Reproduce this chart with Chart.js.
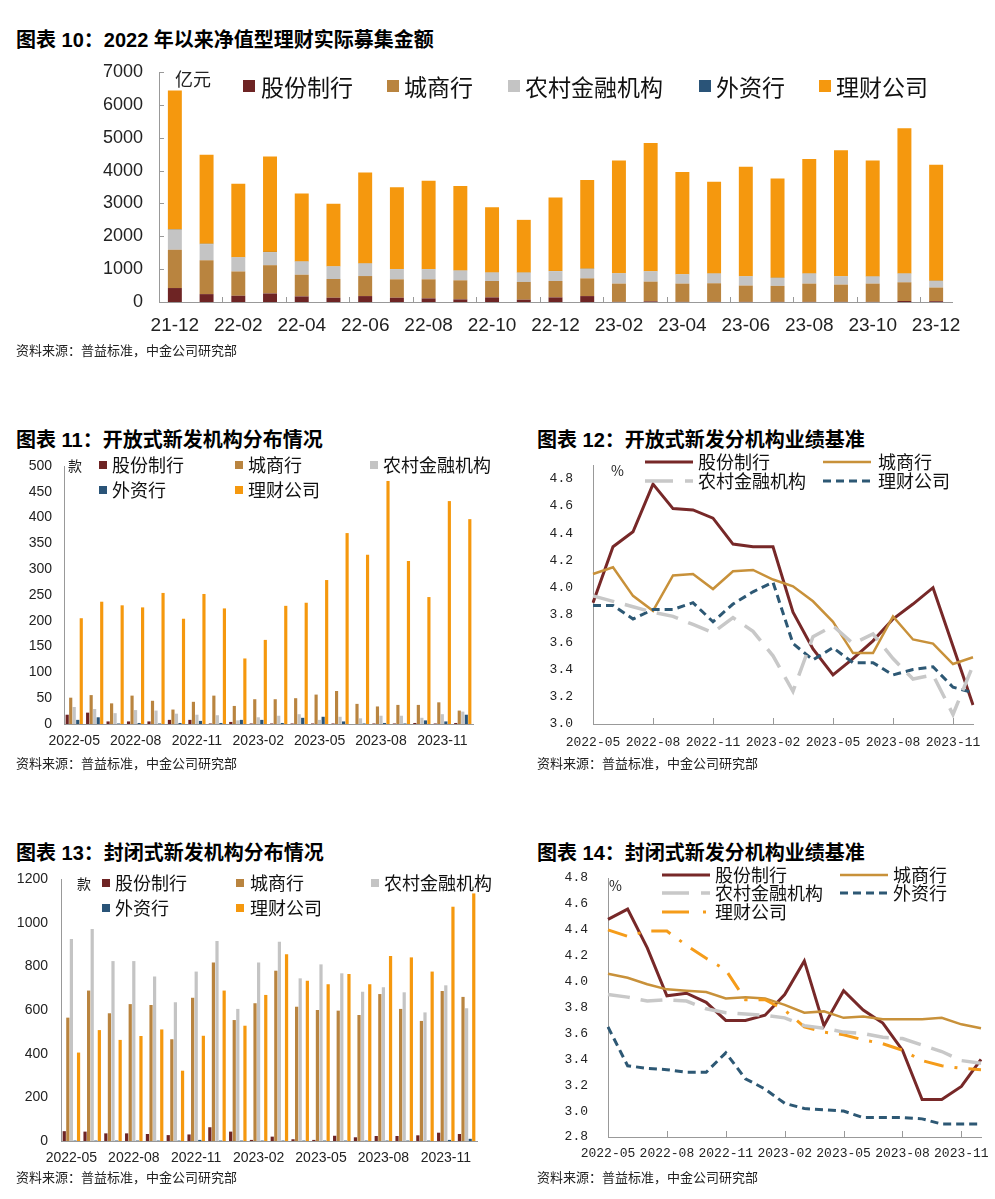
<!DOCTYPE html>
<html>
<head>
<meta charset="utf-8">
<script src="https://cdn.jsdelivr.net/npm/chart.js@4.4.1/dist/chart.umd.min.js"></script>
<style>
  body { margin: 0; background: #fff; }
  #page { position: relative; width: 995px; height: 1199px; background: #fff; overflow: hidden; }
  canvas { position: absolute; }
  .t { position: absolute; white-space: nowrap; font-family: "Liberation Sans", "Noto Sans CJK SC", sans-serif; font-weight: 700; font-size: 20px; line-height: 24px; color: #000; }
  .src { position: absolute; white-space: nowrap; font-family: "Noto Sans CJK SC", sans-serif; font-size: 13px; line-height: 16px; color: #222; }
  .lg { position: absolute; white-space: nowrap; font-family: "Noto Sans CJK SC", sans-serif; color: #111; }
  .sq { position: absolute; }
  .unit { position: absolute; white-space: nowrap; font-family: "Noto Sans CJK SC", "Liberation Sans", sans-serif; color: #222; }
</style>
</head>
<body>
<div id="page">
  <div class="t" style="left:16px; top:28px;">图表 10：2022 年以来净值型理财实际募集金额</div>
  <canvas id="c10" width="995" height="300" style="left:0; top:55px;"></canvas>
  <div class="unit" style="left:175px; top:66px; font-size:18px; line-height:24px;">亿元</div>
  <div class="src" style="left:16px; top:342px;">资料来源：普益标准，中金公司研究部</div>

  <div class="t" style="left:16px; top:428px;">图表 11：开放式新发机构分布情况</div>
  <canvas id="c11" width="490" height="300" style="left:0; top:455px;"></canvas>
  <div class="unit" style="left:68px; top:456px; font-size:14px; line-height:18px;">款</div>
  <div class="src" style="left:16px; top:755px;">资料来源：普益标准，中金公司研究部</div>

  <div class="t" style="left:537px; top:428px;">图表 12：开放式新发分机构业绩基准</div>
  <canvas id="c12" width="465" height="300" style="left:530px; top:455px;"></canvas>
  <div class="unit" style="left:611px; top:461px; font-size:14px; line-height:18px;">%</div>
  <div class="src" style="left:537px; top:755px;">资料来源：普益标准，中金公司研究部</div>

  <div class="t" style="left:16px; top:841px;">图表 13：封闭式新发机构分布情况</div>
  <canvas id="c13" width="490" height="310" style="left:0; top:860px;"></canvas>
  <div class="unit" style="left:77px; top:874px; font-size:14px; line-height:18px;">款</div>
  <div class="src" style="left:16px; top:1169px;">资料来源：普益标准，中金公司研究部</div>

  <div class="t" style="left:537px; top:841px;">图表 14：封闭式新发分机构业绩基准</div>
  <canvas id="c14" width="465" height="310" style="left:530px; top:860px;"></canvas>
  <div class="unit" style="left:609px; top:876px; font-size:14px; line-height:18px;">%</div>
  <div class="src" style="left:537px; top:1169px;">资料来源：普益标准，中金公司研究部</div>
</div>

<script>
// ---- data ----
const series = ['股份制行', '城商行', '农村金融机构', '外资行', '理财公司'];
const barColors = ['#6e2424', '#b9843f', '#c4c4c4', '#2a5478', '#f5980e'];

const months10 = ['21-12', '22-01', '22-02', '22-03', '22-04', '22-05', '22-06', '22-07', '22-08', '22-09', '22-10', '22-11', '22-12',
    '23-01', '23-02', '23-03', '23-04', '23-05', '23-06', '23-07', '23-08', '23-09', '23-10', '23-11', '23-12'];
const gufen10 = [425, 240, 190, 260, 170, 130, 180, 130, 110, 80, 140, 70, 140, 180, 5, 20, 5, 5, 5, 5, 5, 5, 5, 30, 25];
const chengshang10 = [1165, 1030, 740, 860, 660, 570, 610, 560, 580, 580, 500, 540, 500, 540, 555, 600, 555, 565, 495, 485, 555, 525, 555, 570, 415];
const nongcun10 = [610, 490, 430, 400, 400, 380, 380, 310, 310, 290, 250, 280, 300, 290, 310, 310, 280, 290, 280, 240, 300, 250, 210, 260, 200];
const waizi10 = [10, 10, 5, 5, 5, 5, 5, 5, 5, 5, 5, 5, 5, 5, 5, 5, 5, 5, 5, 5, 5, 5, 5, 5, 5];
const licai10 = [4230, 2710, 2235, 2905, 2065, 1905, 2765, 2485, 2685, 2575, 1985, 1605, 2235, 2695, 3435, 3905, 3115, 2795, 3335, 3025, 3485, 3835, 3535, 4425, 3535];

const months = ['2022-05', '2022-06', '2022-07', '2022-08', '2022-09', '2022-10', '2022-11', '2022-12', '2023-01', '2023-02',
    '2023-03', '2023-04', '2023-05', '2023-06', '2023-07', '2023-08', '2023-09', '2023-10', '2023-11', '2023-12'];

// 开放式新发数量（款）
const gufen11 = [18, 22, 5, 5, 5, 8, 8, 1, 4, 1, 1, 1, 1, 1, 0, 1, 1, 2, 1, 2];
const chengshang11 = [51, 56, 40, 55, 45, 28, 43, 55, 35, 48, 48, 50, 57, 64, 39, 34, 37, 37, 42, 26];
const nongcun11 = [33, 29, 21, 27, 26, 20, 18, 17, 7, 13, 16, 19, 8, 14, 11, 16, 16, 12, 19, 24];
const waizi11 = [8, 13, 1, 2, 1, 2, 6, 2, 8, 8, 2, 12, 14, 5, 1, 2, 1, 7, 5, 18];
const licai11 = [205, 237, 230, 226, 254, 204, 252, 224, 127, 163, 229, 235, 279, 370, 328, 471, 316, 246, 432, 397];

// 开放式业绩基准（%）
const gufen12 = [3.89, 4.30, 4.41, 4.76, 4.58, 4.57, 4.51, 4.32, 4.30, 4.30, 3.82, 3.55, 3.36, 3.48, 3.61, 3.77, 3.88, 4.00, 3.57, 3.14];
const chengshang12 = [4.10, 4.15, 3.94, 3.83, 4.09, 4.10, 3.99, 4.12, 4.13, 4.06, 4.01, 3.90, 3.75, 3.52, 3.52, 3.79, 3.62, 3.59, 3.44, 3.49];
const nongcun12 = [3.94, 3.90, 3.86, 3.82, 3.79, 3.73, 3.67, 3.78, 3.68, 3.50, 3.24, 3.64, 3.72, 3.59, 3.66, 3.48, 3.33, 3.36, 3.07, 3.43];
const licai12 = [3.87, 3.87, 3.77, 3.84, 3.84, 3.89, 3.75, 3.88, 3.97, 4.04, 3.59, 3.47, 3.56, 3.45, 3.45, 3.36, 3.40, 3.42, 3.27, 3.23];

// 封闭式新发数量（款）
const gufen13 = [45, 43, 35, 35, 32, 27, 30, 63, 43, 5, 20, 8, 5, 24, 17, 23, 23, 26, 38, 32];
const chengshang13 = [565, 689, 585, 627, 623, 466, 656, 818, 554, 631, 780, 615, 600, 597, 577, 673, 605, 550, 687, 660];
const nongcun13 = [925, 971, 824, 824, 753, 635, 776, 916, 605, 818, 913, 745, 809, 768, 684, 704, 681, 589, 713, 608];
const waizi13 = [2, 2, 2, 2, 2, 2, 5, 2, 2, 2, 2, 2, 2, 2, 2, 2, 2, 2, 5, 10];
const licai13 = [405, 508, 463, 481, 511, 322, 482, 689, 528, 669, 855, 734, 718, 765, 718, 847, 841, 776, 1073, 1134];

// 封闭式业绩基准（%）
const gufen14 = [4.48, 4.56, 4.26, 3.89, 3.91, 3.84, 3.70, 3.70, 3.74, 3.90, 4.16, 3.66, 3.93, 3.78, 3.68, 3.47, 3.09, 3.09, 3.19, 3.40];
const chengshang14 = [4.06, 4.03, 3.98, 3.94, 3.93, 3.92, 3.87, 3.88, 3.87, 3.82, 3.76, 3.77, 3.72, 3.73, 3.71, 3.71, 3.71, 3.72, 3.67, 3.64];
const nongcun14 = [3.90, 3.88, 3.85, 3.86, 3.85, 3.79, 3.76, 3.75, 3.74, 3.72, 3.66, 3.64, 3.61, 3.60, 3.57, 3.56, 3.51, 3.46, 3.39, 3.37];
const waizi14 = [3.65, 3.35, 3.33, 3.32, 3.30, 3.30, 3.45, 3.25, 3.17, 3.06, 3.02, 3.01, 3.00, 2.95, 2.95, 2.95, 2.94, 2.90, 2.90, 2.90];
const licai14 = [4.40, 4.35, 4.39, 4.39, 4.28, 4.18, 4.09, 3.86, 3.86, 3.78, 3.65, 3.61, 3.59, 3.55, 3.52, 3.47, 3.39, 3.35, 3.33, 3.32];

// ---- helpers ----
Chart.defaults.font.family = '"Liberation Sans", "Noto Sans CJK SC", sans-serif';
Chart.defaults.color = '#222';
Chart.defaults.animation = false;

// short tick marks pointing into the plot
const innerTicks = {
    id: 'innerTicks',
    afterDatasetsDraw(chart, args, o) {
        if (!o || !o.xStep) return;
        const ctx = chart.ctx, a = chart.chartArea, xs = chart.scales.x, n = xs.ticks.length;
        ctx.save();
        ctx.strokeStyle = '#999';
        ctx.lineWidth = 1;
        ctx.beginPath();
        for (let i = o.xStart || 0; i < n; i += o.xStep) {
            let px = o.between ? (xs.getPixelForTick(i - 1) + xs.getPixelForTick(i)) / 2 : xs.getPixelForTick(i);
            px = Math.round(px) + 0.5;
            ctx.moveTo(px, a.bottom);
            ctx.lineTo(px, a.bottom - o.len);
        }
        if (o.yTicks) {
            const ys = chart.scales.y;
            ys.ticks.forEach((t, i) => {
                const py = Math.round(ys.getPixelForTick(i)) + 0.5;
                ctx.moveTo(a.left, py);
                ctx.lineTo(a.left + o.len, py);
            });
        }
        ctx.stroke();
        ctx.restore();
    }
};
Chart.register(innerTicks);

function legendSquare(left, top, size, color) {
    const d = document.createElement('div');
    d.className = 'sq';
    d.style.cssText = `left:${left}px;top:${top}px;width:${size}px;height:${size}px;background:${color};`;
    document.getElementById('page').appendChild(d);
}
function legendText(left, centerY, size, text) {
    const d = document.createElement('div');
    d.className = 'lg';
    d.textContent = text;
    d.style.cssText = `left:${left}px;top:${centerY - size * 0.7}px;font-size:${size}px;line-height:${size * 1.4}px;`;
    document.getElementById('page').appendChild(d);
}
function legendLine(left, centerY, width, color, lw, dash) {
    const ns = 'http://www.w3.org/2000/svg';
    const svg = document.createElementNS(ns, 'svg');
    svg.setAttribute('width', width);
    svg.setAttribute('height', 8);
    svg.style.cssText = `position:absolute;left:${left}px;top:${centerY - 4}px;`;
    const l = document.createElementNS(ns, 'line');
    l.setAttribute('x1', 0); l.setAttribute('x2', width);
    l.setAttribute('y1', 4); l.setAttribute('y2', 4);
    l.setAttribute('stroke', color);
    l.setAttribute('stroke-width', lw);
    if (dash) l.setAttribute('stroke-dasharray', dash.join(' '));
    svg.appendChild(l);
    document.getElementById('page').appendChild(svg);
}

const axisGrey = '#999';

// ---- 图表 10 ----
new Chart(document.getElementById('c10'), {
    type: 'bar',
    data: {
        labels: months10,
        datasets: [gufen10, chengshang10, nongcun10, waizi10, licai10].map((d, i) => ({
            label: series[i], data: d, backgroundColor: barColors[i],
            barPercentage: 0.44, categoryPercentage: 1.0
        }))
    },
    options: {
        responsive: false,
        layout: { padding: { left: 0, right: 43, top: 17, bottom: 0 } },
        plugins: { legend: { display: false }, tooltip: { enabled: false },
            innerTicks: { xStep: 2, xStart: 2, between: true, len: 5, yTicks: true } },
        scales: {
            x: {
                stacked: true,
                grid: { display: false, tickLength: 0 },
                border: { color: axisGrey },
                ticks: { autoSkip: false, maxRotation: 0, padding: 12, font: { size: 19 },
                    callback: (v, i) => i % 2 === 0 ? months10[i] : '' },
                afterFit: s => { s.height = 53; }
            },
            y: {
                stacked: true, min: 0, max: 7000,
                grid: { display: false, tickLength: 14 },
                border: { color: axisGrey },
                ticks: { stepSize: 1000, padding: 2, font: { size: 18 }, callback: v => String(v) },
                afterFit: s => { s.width = 159; }
            }
        }
    }
});
[[243, '股份制行', 261], [387, '城商行', 404], [508, '农村金融机构', 525], [699, '外资行', 716], [819, '理财公司', 836]].forEach((it, i) => {
    legendSquare(it[0], 80, 12, barColors[i]);
    legendText(it[2], 86, 23, it[1]);
});

// ---- grouped bar helper for 11 / 13 ----
function groupedBars(id, data, yMax, yStep, pad, yWidth, yGap, xHeight, xPad) {
    new Chart(document.getElementById(id), {
        type: 'bar',
        data: {
            labels: months,
            datasets: data.map((d, i) => ({
                label: series[i], data: d, backgroundColor: barColors[i],
                barPercentage: 0.9, categoryPercentage: 0.86
            }))
        },
        options: {
            responsive: false,
            layout: { padding: pad },
            plugins: { legend: { display: false }, tooltip: { enabled: false } },
            scales: {
                x: {
                    grid: { display: false, tickLength: 0 },
                    border: { color: axisGrey },
                    ticks: { autoSkip: false, maxRotation: 0, padding: xPad, font: { size: 14 },
                        callback: (v, i) => i % 3 === 0 ? months[i] : '' },
                    afterFit: s => { s.height = xHeight; }
                },
                y: {
                    min: 0, max: yMax,
                    grid: { display: false, tickLength: yGap - 2 },
                    border: { color: axisGrey },
                    ticks: { stepSize: yStep, padding: 2, font: { size: 14 }, callback: v => String(v) },
                    afterFit: s => { s.width = yWidth; }
                }
            }
        }
    });
}

groupedBars('c11', [gufen11, chengshang11, nongcun11, waizi11, licai11], 500, 50,
    { left: 0, right: 17, top: 11, bottom: 0 }, 64, 12, 31, 9);
[[99, 465, 112], [235, 465, 248], [370, 465, 383], [99, 490, 112], [235, 490, 248]].forEach((it, i) => {
    legendSquare(it[0], it[1] - 4, 8, barColors[i]);
    legendText(it[2], it[1], 18, series[i]);
});

groupedBars('c13', [gufen13, chengshang13, nongcun13, waizi13, licai13], 1200, 200,
    { left: 0, right: 13, top: 19, bottom: 0 }, 61, 13, 29, 9);
[[102, 883, 115], [236, 883, 250], [371, 883, 384], [102, 908, 115], [236, 908, 250]].forEach((it, i) => {
    legendSquare(it[0], it[1] - 4, 8, barColors[i]);
    legendText(it[2], it[1], 18, series[i]);
});

// ---- line helper for 12 / 14 ----
const lineStyles = {
    '股份制行': { color: '#772828', width: 3, dash: [] },
    '城商行': { color: '#c8913a', width: 2.5, dash: [] },
    '农村金融机构': { color: '#c8c8c8', width: 3.5, dash: [22, 11] },
    '外资行': { color: '#2d5874', width: 3, dash: [8, 5] },
    '理财公司蓝': { color: '#2d5874', width: 3, dash: [8, 5] },
    '理财公司橙': { color: '#f59c1a', width: 3, dash: [20, 11, 3, 11] }
};

function lines(id, sets, yMin, yMax, yMaxTick, pad, yWidth, xHeight, xPad) {
    new Chart(document.getElementById(id), {
        type: 'line',
        data: {
            labels: months,
            datasets: sets.map(s => ({
                label: s.name, data: s.data, borderColor: s.st.color, borderWidth: s.st.width,
                borderDash: s.st.dash, pointRadius: 0, tension: 0, fill: false, borderCapStyle: 'butt'
            }))
        },
        options: {
            responsive: false,
            layout: { padding: pad },
            plugins: { legend: { display: false }, tooltip: { enabled: false },
                innerTicks: { xStep: 3, len: 6 } },
            scales: {
                x: {
                    offset: false,
                    grid: { display: false, tickLength: 0 },
                    border: { color: axisGrey },
                    ticks: { autoSkip: false, maxRotation: 0, padding: xPad,
                        font: { family: '"Liberation Mono", monospace', size: 13 },
                        callback: (v, i) => i % 3 === 0 ? months[i] : '' },
                    afterFit: s => { s.height = xHeight; }
                },
                y: {
                    min: yMin, max: yMax,
                    grid: { display: false, tickLength: 18 },
                    border: { color: axisGrey },
                    ticks: { padding: 2,
                        font: { family: '"Liberation Mono", monospace', size: 13 },
                        callback: v => v.toFixed(1) },
                    afterBuildTicks: s => {
                        const out = [];
                        for (let k = 0; yMin + k * 0.2 <= yMaxTick + 1e-6; k++) out.push({ value: Math.round((yMin + k * 0.2) * 10) / 10 });
                        s.ticks = out;
                    },
                    afterFit: s => { s.width = yWidth; }
                }
            }
        }
    });
}

lines('c12', [
    { name: '农村金融机构', data: nongcun12, st: lineStyles['农村金融机构'] },
    { name: '理财公司', data: licai12, st: lineStyles['理财公司蓝'] },
    { name: '城商行', data: chengshang12, st: lineStyles['城商行'] },
    { name: '股份制行', data: gufen12, st: lineStyles['股份制行'] }
], 3.0, 4.9, 4.8, { left: 0, right: 22, top: 10, bottom: 0 }, 63, 31, 11);
[[645, 462, 698, '股份制行', '股份制行', null], [823, 462, 878, '城商行', '城商行', null],
 [645, 481, 698, '农村金融机构', '农村金融机构', [28, 12]], [823, 481, 878, '理财公司', '理财公司蓝', [8, 5]]].forEach(it => {
    const st = lineStyles[it[4]];
    legendLine(it[0], it[1], 48, st.color, st.width, it[5]);
    legendText(it[2], it[1], 18, it[3]);
});

lines('c14', [
    { name: '农村金融机构', data: nongcun14, st: lineStyles['农村金融机构'] },
    { name: '外资行', data: waizi14, st: lineStyles['外资行'] },
    { name: '理财公司', data: licai14, st: lineStyles['理财公司橙'] },
    { name: '城商行', data: chengshang14, st: lineStyles['城商行'] },
    { name: '股份制行', data: gufen14, st: lineStyles['股份制行'] }
], 2.8, 4.8, 4.8, { left: 0, right: 14, top: 18, bottom: 0 }, 78, 33, 9);
[[662, 875, 715, '股份制行', '股份制行', null], [840, 875, 893, '城商行', '城商行', null],
 [662, 893, 715, '农村金融机构', '农村金融机构', [27, 12]], [840, 893, 893, '外资行', '外资行', [8, 5]],
 [662, 912, 715, '理财公司', '理财公司橙', [27, 14, 3, 10]]].forEach(it => {
    const st = lineStyles[it[4]];
    legendLine(it[0], it[1], 48, st.color, st.width, it[5]);
    legendText(it[2], it[1], 18, it[3]);
});
</script>
</body>
</html>
